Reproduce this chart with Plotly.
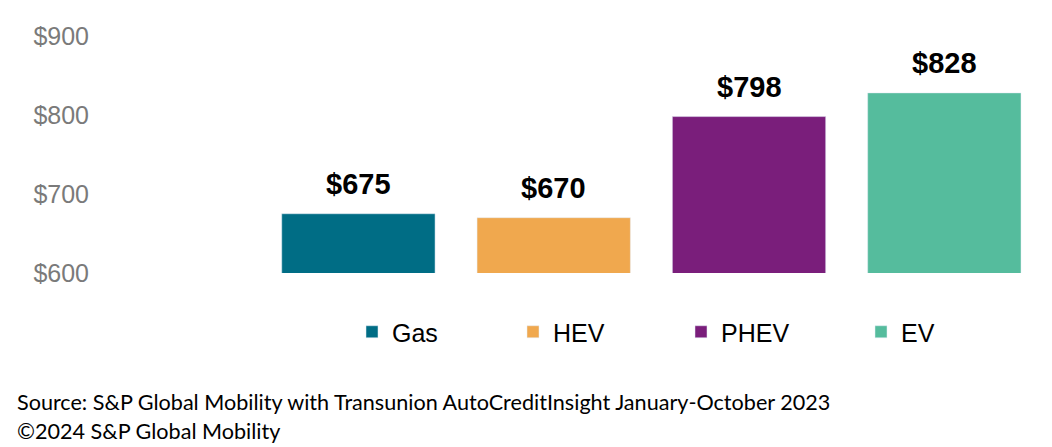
import plotly.graph_objects as go

categories = ["Gas", "HEV", "PHEV", "EV"]
values = [675, 670, 798, 828]
colors = ["#006D85", "#F0A84E", "#7A1E7B", "#55BC9D"]
y_ticks = [600, 700, 800, 900]
y_tick_labels = ["$600", "$700", "$800", "$900"]
source_lines = [
    "Source: S&P Global Mobility with Transunion AutoCreditInsight January-October 2023",
    "©2024 S&P Global Mobility",
]

W, H = 1052, 447
L, R, T, B = 100, 10, 36, 174
pw = W - L - R
ph = H - T - B

def px_x(px):
    return (px - L) / pw

def px_y(py):
    return (H - B - py) / ph

fig = go.Figure()
legend_px = [352, 513, 681, 861]
for i, (cat, val, col) in enumerate(zip(categories, values, colors)):
    lg = "legend" if i == 0 else f"legend{i+1}"
    fig.add_trace(go.Bar(
        x=[cat], y=[val], name=cat, marker_color=col, width=0.785,
        legend=lg, hoverinfo="skip",
    ))
    fig.add_annotation(
        x=cat, y=val, text=f"<b>${val}</b>", showarrow=False,
        yanchor="bottom", yshift=12,
        font=dict(family="Arial, Liberation Sans", size=29, color="#000000"),
    )

legend_common = dict(
    orientation="h", yanchor="middle", xanchor="left",
    font=dict(family="Arial, Liberation Sans", size=25, color="#000000"),
    bgcolor="rgba(0,0,0,0)", itemwidth=30,
)
layout_legends = {}
for i, lpx in enumerate(legend_px):
    key = "legend" if i == 0 else f"legend{i+1}"
    layout_legends[key] = dict(x=px_x(lpx), y=px_y(332), **legend_common)

for j, line in enumerate(source_lines):
    fig.add_annotation(
        xref="paper", yref="paper", x=px_x(15), y=px_y([402, 431][j]),
        xanchor="left", yanchor="middle", showarrow=False, text=line,
        font=dict(family="Lato, Noto Sans", size=21.6, color="#000000"),
    )

fig.update_layout(
    width=W, height=H,
    margin=dict(l=L, r=R, t=T, b=B),
    paper_bgcolor="white", plot_bgcolor="white",
    barmode="overlay",
    showlegend=True,
    xaxis=dict(
        type="category", categoryorder="array", categoryarray=categories,
        range=[-1.323, 3.5], showticklabels=False, showgrid=False,
        zeroline=False, showline=False, ticks="",
    ),
    yaxis=dict(
        range=[600, 900], tickvals=y_ticks, ticktext=y_tick_labels,
        showgrid=False, zeroline=False, showline=False, ticks="",
        tickfont=dict(family="Arial, Liberation Sans", size=25, color="#7A7A7A"),
        ticklabelstandoff=10,
    ),
    **layout_legends,
)

fig.write_html("out.html")
